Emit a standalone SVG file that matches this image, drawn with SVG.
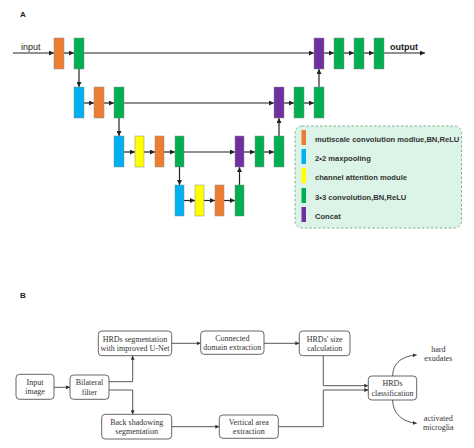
<svg xmlns="http://www.w3.org/2000/svg" width="474" height="448" viewBox="0 0 474 448">
<style>
.b{stroke:#8a8a8a;stroke-width:0.5}
.or{fill:#ED7D31}.bl{fill:#00B0F0}.ye{fill:#FFFF00}.gr{fill:#00B050}.pu{fill:#7030A0}
.ca{fill:none;stroke:#222;stroke-width:1.2;marker-end:url(#ah)}
.cb{fill:none;stroke:#444;stroke-width:0.9;marker-end:url(#ahb)}
.cbn{fill:none;stroke:#444;stroke-width:0.9}
.bx{fill:#fff;stroke:#555;stroke-width:0.9}
.tb{font-family:"Liberation Serif","Times New Roman",serif;font-size:8px;fill:#333;text-anchor:middle}
.lg{font-family:"Liberation Sans",Arial,sans-serif;font-size:7.6px;font-weight:bold;fill:#333}
.hd{font-family:"Liberation Sans",Arial,sans-serif;font-size:8px;font-weight:bold;fill:#222}
.io{font-family:"Liberation Sans",Arial,sans-serif;font-size:9px;fill:#222}
</style>
<defs>
<marker id="ah" viewBox="0 0 10 10" refX="10" refY="5" markerWidth="5" markerHeight="5" markerUnits="userSpaceOnUse" orient="auto"><path d="M0,0 L10,5 L0,10 Z" fill="#222"/></marker>
<marker id="ahb" viewBox="0 0 10 10" refX="10" refY="5" markerWidth="4" markerHeight="4" markerUnits="userSpaceOnUse" orient="auto"><path d="M0,0 L10,5 L0,10 Z" fill="#333"/></marker>
</defs>
<rect width="474" height="448" fill="#fff"/>
<text class="hd" x="20" y="17">A</text>
<text class="hd" x="20" y="298">B</text>
<text class="io" x="21" y="50">input</text>
<text class="io" x="390" y="50" font-weight="bold" fill="#333">output</text>

<g id="connectors-A">
<path class="ca" d="M13,53 H54"/>
<path class="ca" d="M64,53 H74"/>
<path class="ca" d="M84,53 H314"/>
<path class="ca" d="M324,53 H334"/>
<path class="ca" d="M344,53 H354"/>
<path class="ca" d="M364,53 H374"/>
<path class="ca" d="M384,53 H425"/>
<path class="ca" d="M79,69 V87"/>
<path class="ca" d="M84,103 H94"/>
<path class="ca" d="M104,103 H114"/>
<path class="ca" d="M124,103 H274"/>
<path class="ca" d="M284,103 H294"/>
<path class="ca" d="M304,103 H314"/>
<path class="ca" d="M319,87 V69"/>
<path class="ca" d="M119,118 V136"/>
<path class="ca" d="M124,152 H135"/>
<path class="ca" d="M144,152 H155"/>
<path class="ca" d="M164,152 H175"/>
<path class="ca" d="M184,152 H235"/>
<path class="ca" d="M244,152 H255"/>
<path class="ca" d="M264,152 H274"/>
<path class="ca" d="M279,136 V118"/>
<path class="ca" d="M179.5,167 V185"/>
<path class="ca" d="M184,200.5 H195"/>
<path class="ca" d="M204,200.5 H215"/>
<path class="ca" d="M224,200.5 H235"/>
<path class="ca" d="M239.5,185 V167"/>
</g>

<g id="row1">
<rect id="r1-orange" class="or b" x="54" y="38" width="10" height="31"/>
<rect id="r1-green" class="gr b" x="74" y="38" width="10" height="31"/>
<rect id="r1-purple" class="pu b" x="314" y="38" width="10" height="31"/>
<rect id="r1-green2" class="gr b" x="334" y="38" width="10" height="31"/>
<rect id="r1-green3" class="gr b" x="354" y="38" width="10" height="31"/>
<rect id="r1-green4" class="gr b" x="374" y="38" width="10" height="31"/>
</g>
<g id="row2">
<rect id="r2-blue" class="bl b" x="74" y="87" width="10" height="31"/>
<rect id="r2-orange" class="or b" x="94" y="87" width="10" height="31"/>
<rect id="r2-green" class="gr b" x="114" y="87" width="10" height="31"/>
<rect id="r2-purple" class="pu b" x="274" y="87" width="10" height="31"/>
<rect id="r2-green2" class="gr b" x="294" y="87" width="10" height="31"/>
<rect id="r2-green3" class="gr b" x="314" y="87" width="10" height="31"/>
</g>
<g id="row3">
<rect id="r3-blue" class="bl b" x="114" y="136" width="10" height="31"/>
<rect id="r3-yellow" class="ye b" x="135" y="136" width="9" height="31"/>
<rect id="r3-orange" class="or b" x="155" y="136" width="9" height="31"/>
<rect id="r3-green" class="gr b" x="175" y="136" width="9" height="31"/>
<rect id="r3-purple" class="pu b" x="235" y="136" width="9" height="31"/>
<rect id="r3-green2" class="gr b" x="255" y="136" width="9" height="31"/>
<rect id="r3-green3" class="gr b" x="274" y="136" width="10" height="31"/>
</g>
<g id="row4">
<rect id="r4-blue" class="bl b" x="175" y="185" width="9" height="31"/>
<rect id="r4-yellow" class="ye b" x="195" y="185" width="9" height="31"/>
<rect id="r4-orange" class="or b" x="215" y="185" width="9" height="31"/>
<rect id="r4-green" class="gr b" x="235" y="185" width="9" height="31"/>
</g>

<g id="legend">
<rect x="295" y="126" width="166.5" height="102" rx="7" fill="#dcf3e8" stroke="#7bb48f" stroke-width="1" stroke-dasharray="2.5,2"/>
<rect class="or" x="301.5" y="130" width="4.5" height="15"/>
<rect class="bl" x="301.5" y="149" width="4.5" height="15"/>
<rect class="ye" x="301.5" y="168" width="4.5" height="15"/>
<rect class="gr" x="301.5" y="188" width="4.5" height="15"/>
<rect class="pu" x="301.5" y="207" width="4.5" height="15"/>
<text class="lg" x="315" y="142">mutiscale convolution modlue,BN,ReLU</text>
<text class="lg" x="315" y="161">2•2 maxpooling</text>
<text class="lg" x="315" y="180">channel attention module</text>
<text class="lg" x="315" y="200">3•3 convolution,BN,ReLU</text>
<text class="lg" x="315" y="219">Concat</text>
</g>

<g id="connectors-B">
<path class="cb" d="M54,387.3 H70"/>
<path class="cbn" d="M109,381.7 H132.7"/>
<path class="cb" d="M132.7,381.7 V355.7"/>
<path class="cbn" d="M109,390 H132.7"/>
<path class="cb" d="M132.7,390 V414.3"/>
<path class="cb" d="M171.7,343.3 H200.7"/>
<path class="cb" d="M264,343.3 H299.3"/>
<path class="cb" d="M171.7,426.7 H219.3"/>
<path class="cb" d="M323.3,355.7 V385.7 H368.3"/>
<path class="cb" d="M278.3,426.7 H323.3 V390 H368.3"/>
<path class="cb" d="M392.7,376 C392.7,363 402,356 416.7,355"/>
<path class="cb" d="M392.7,400 C392.7,413 402,422 416.7,423.3"/>
</g>

<g id="input-image">
<rect class="bx" x="16" y="374.3" width="38" height="25" rx="3.5"/>
<text class="tb" x="35" y="384.5">Input</text>
<text class="tb" x="35" y="394">image</text>
</g>
<g id="bilateral-filter">
<rect class="bx" x="70" y="375" width="39" height="24.3" rx="3.5"/>
<text class="tb" x="89.5" y="385">Bilateral</text>
<text class="tb" x="89.5" y="394.5">filter</text>
</g>
<g id="hrds-seg">
<rect class="bx" x="98.3" y="331" width="73.4" height="24.7" rx="3.5"/>
<text class="tb" x="135" y="341.5">HRDs segmentation</text>
<text class="tb" x="135" y="351">with improved U-Net</text>
</g>
<g id="back-shadowing">
<rect class="bx" x="101.7" y="414.3" width="70" height="24.7" rx="3.5"/>
<text class="tb" x="136.7" y="424.5">Back shadowing</text>
<text class="tb" x="136.7" y="434">segmentation</text>
</g>
<g id="connected-domain">
<rect class="bx" x="200.7" y="331" width="63.3" height="23.3" rx="3.5"/>
<text class="tb" x="232.3" y="340.5">Connected</text>
<text class="tb" x="232.3" y="350">domain extraction</text>
</g>
<g id="vertical-area">
<rect class="bx" x="219.3" y="415" width="59" height="23.3" rx="3.5"/>
<text class="tb" x="248.8" y="424.5">Vertical area</text>
<text class="tb" x="248.8" y="434">extraction</text>
</g>
<g id="hrds-size">
<rect class="bx" x="299.3" y="331" width="50.7" height="24.7" rx="3.5"/>
<text class="tb" x="324.7" y="341.5">HRDs' size</text>
<text class="tb" x="324.7" y="350.5">calculation</text>
</g>
<g id="hrds-class">
<rect class="bx" x="368.3" y="376" width="48.4" height="24" rx="3.5"/>
<text class="tb" x="392.5" y="386">HRDs</text>
<text class="tb" x="392.5" y="395.5">classification</text>
</g>
<g id="hard-exudates">
<text class="tb" x="438.3" y="352">hard</text>
<text class="tb" x="438.3" y="361">exudates</text>
</g>
<g id="activated-microglia">
<text class="tb" x="438.3" y="421">activated</text>
<text class="tb" x="438.3" y="430">microglia</text>
</g>
</svg>
